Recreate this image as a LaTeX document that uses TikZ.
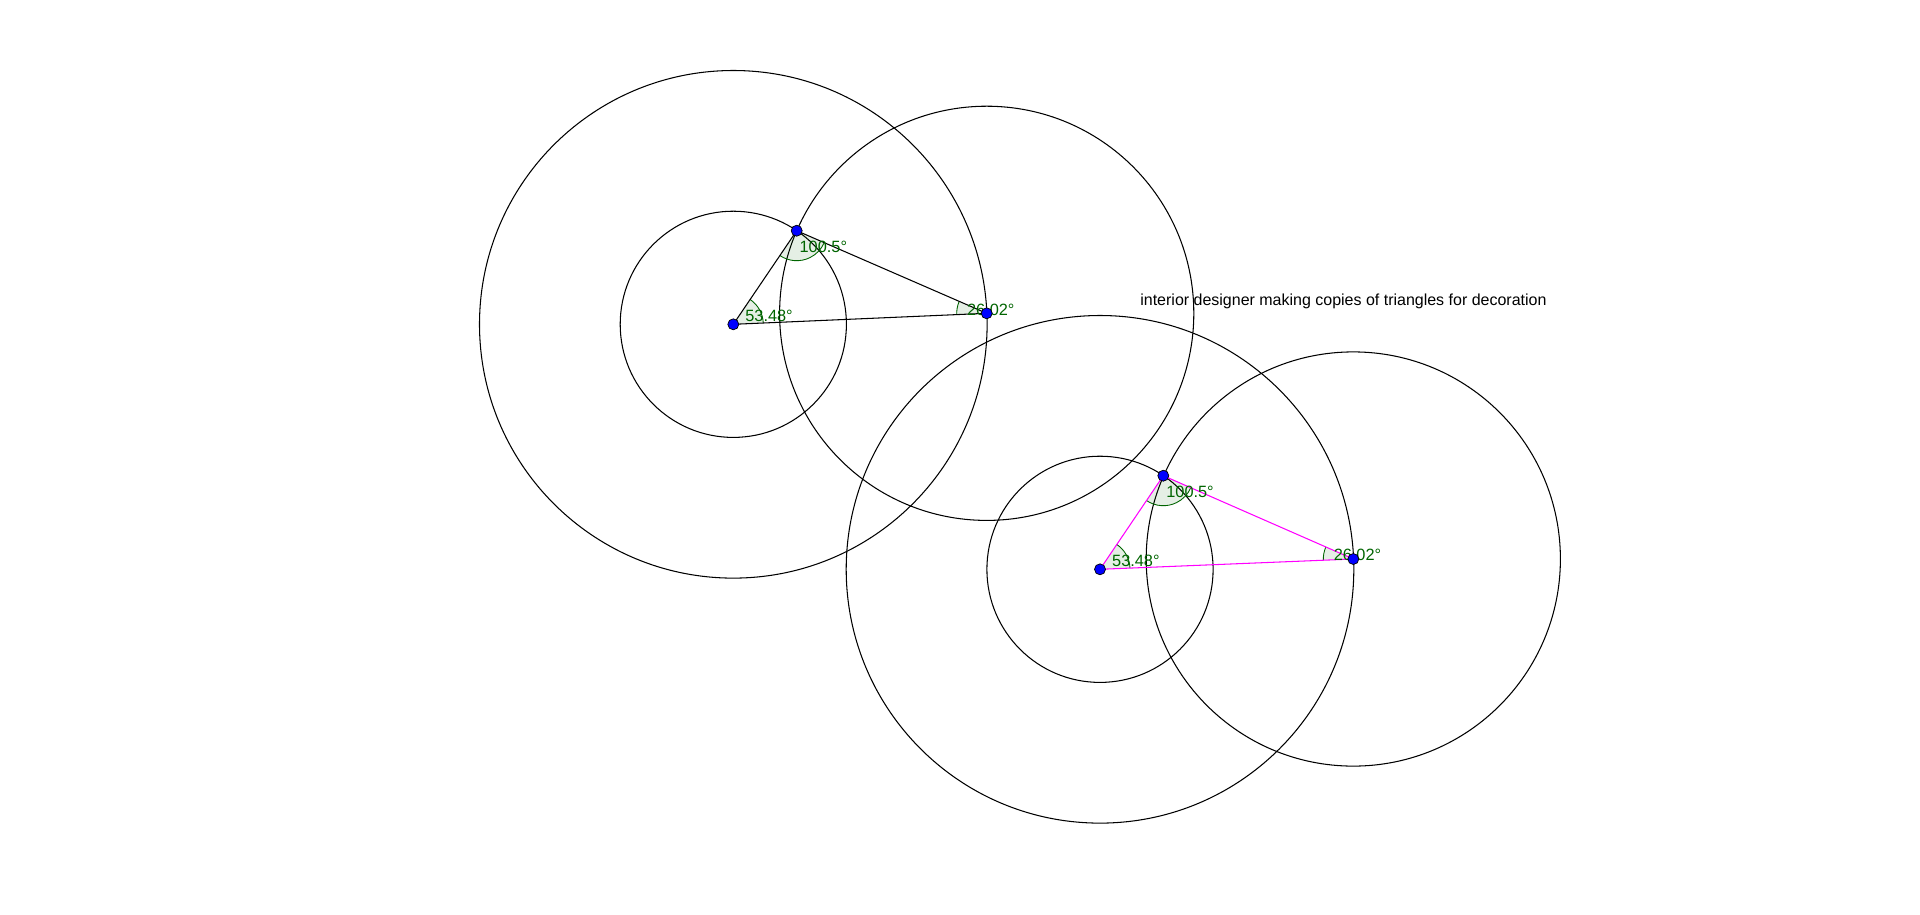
\documentclass[tikz,border=0pt]{standalone}
\usepackage{fontspec}
\setmainfont{Liberation Sans}
\usetikzlibrary{angles,positioning}

\definecolor{anglegreen}{RGB}{0,100,0}
\definecolor{copymagenta}{RGB}{255,0,255}
\definecolor{vertexblue}{RGB}{0,0,255}

\tikzset{
  ring/.style={draw=black,line width=0.6pt},
  side/.style={draw=black,line width=0.6pt},
  copyside/.style={draw=copymagenta,line width=0.6pt},
  vertex/.style={circle,draw=black,fill=vertexblue,inner sep=0pt,minimum size=0.22cm,line width=0.4pt},
  anglemark/.style={draw=anglegreen,fill=anglegreen,fill opacity=0.1,angle radius=0.6cm,line width=0.5pt},
  anglelabel/.style={text=anglegreen,inner sep=0pt,anchor=base west,font=\fontsize{9.3}{11}\selectfont}
}

\begin{document}
\begin{tikzpicture}[x=0.02cm,y=-0.02cm]
  \useasboundingbox (0,0) rectangle (1920,914);

  \coordinate (A1) at (733.3,324.3);
  \coordinate (B1) at (796.7,230.7);
  \coordinate (C1) at (986.7,313.3);
  \coordinate (A2) at (1100,569.3);
  \coordinate (B2) at (1163.3,475.7);
  \coordinate (C2) at (1353.3,559);

  \draw[ring] (A1) circle[radius=113.1];
  \draw[ring] (A1) circle[radius=253.8];
  \draw[ring] (C1) circle[radius=207.1];
  \draw[ring] (A2) circle[radius=113.1];
  \draw[ring] (A2) circle[radius=253.8];
  \draw[ring] (C2) circle[radius=207.1];

  \pic[anglemark] {angle=C1--A1--B1};
  \pic[anglemark] {angle=A1--B1--C1};
  \pic[anglemark] {angle=B1--C1--A1};
  \pic[anglemark] {angle=C2--A2--B2};
  \pic[anglemark] {angle=A2--B2--C2};
  \pic[anglemark] {angle=B2--C2--A2};

  \draw[side] (A1) -- (B1) -- (C1) -- cycle;
  \draw[copyside] (A2) -- (B2) -- (C2) -- cycle;

  \node[anglelabel] (a1) at (745,321.7) {53.48°};
  \node[anglelabel] (b1) at (799.3,252.3) {100.5°};
  \node[anglelabel] (c1) at (966.7,315) {26.02°};
  \node[anglelabel] (a2) at (1111.8,566.7) {53.48°};
  \node[anglelabel] (b2) at (1166,497.3) {100.5°};
  \node[anglelabel] (c2) at (1333.4,560) {26.02°};

  \node[vertex] at (A1) {};
  \node[vertex] at (B1) {};
  \node[vertex] at (C1) {};
  \node[vertex] at (A2) {};
  \node[vertex] at (B2) {};
  \node[vertex] at (C2) {};

  \node[anchor=base west,inner sep=0pt,font=\fontsize{9.1}{11}\selectfont] (caption) at (1140,305.5) {interior designer making copies of triangles for decoration};
\end{tikzpicture}
\end{document}
